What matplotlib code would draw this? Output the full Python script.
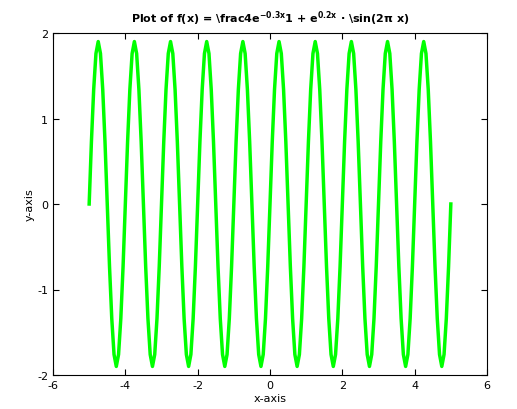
import numpy as np
import matplotlib.pyplot as plt

plt.rcParams['axes.unicode_minus'] = False

# one cycle of the curve, every 1/16 of x-unit
cycle = [0.0, 0.73, 1.34, 1.76, 1.9, 1.76, 1.34, 0.73,
         0.0, -0.73, -1.34, -1.76, -1.9, -1.76, -1.34, -0.73]
n_cycles = 10
x_start, x_end = -5.0, 5.0
y = np.array(cycle * n_cycles + [0.0])
x = np.linspace(x_start, x_end, len(y))

xticks = [-6, -4, -2, 0, 2, 4, 6]
yticks = [-2, -1, 0, 1, 2]

fig = plt.figure(figsize=(5.17, 4.10), dpi=100)
ax = fig.add_axes([53/517, 34/410, 434/517, 342/410])
ax.plot(x, y, color='#00ff00', lw=2.5)
ax.set_xlim(-6, 6)
ax.set_ylim(-2, 2)
ax.set_xticks(xticks)
ax.set_yticks(yticks)
ax.tick_params(direction='in', top=True, right=True, labelsize=8, length=4)
ax.set_xlabel("x-axis", fontsize=8, labelpad=2)
ax.set_ylabel("y-axis", fontsize=8, labelpad=2)
ax.set_title(r"Plot of f(x) = \frac4e$^{\mathbf{-0.3x}}$1 + e$^{\mathbf{0.2x}}$ · \sin(2π x)",
             fontsize=8, fontweight='bold', pad=8)
fig.savefig("out.png", dpi=100)
